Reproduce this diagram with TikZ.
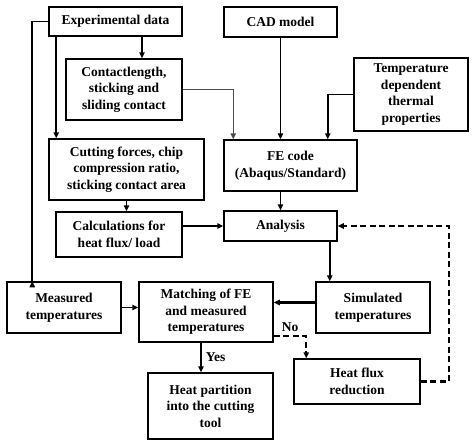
\documentclass[tikz,border=0pt]{standalone}
\usepackage{fontspec}
\setmainfont{Liberation Serif}
\usetikzlibrary{arrows.meta}

\tikzset{
  blk/.style={draw,line width=1.5pt,align=center,inner sep=1pt,
    font=\bfseries\fontsize{13.5}{16.5}\selectfont},
  flow/.style={-{Triangle[length=6pt,width=5.5pt]},line width=1.6pt},
  thinflow/.style={flow,line width=1pt,color=black!70},
  dashflow/.style={flow,dash pattern=on 6pt off 3.5pt,line width=2.2pt},
  lbl/.style={font=\bfseries\fontsize{13.5}{16}\selectfont,inner sep=1pt}
}

\begin{document}
\begin{tikzpicture}[x=1pt,y=-1pt]
\useasboundingbox (0,0) rectangle (474,445);
% 左列
\node[blk,minimum width=133,minimum height=29] (expdata) at (115.5,21.5) {Experimental data};
\node[blk,minimum width=116,minimum height=61] (contact) at (124,89.5) {Contactlength,\\sticking and\\sliding contact};
\node[blk,minimum width=155,minimum height=61] (cutting) at (126.5,169.5) {Cutting forces, chip\\compression ratio,\\sticking contact area};
\node[blk,minimum width=126,minimum height=45] (calc) at (119,234.5) {Calculations for\\heat flux/ load};
\node[blk,minimum width=114,minimum height=51] (meas) at (64,307.5) {Measured\\temperatures};
% 中列
\node[blk,minimum width=113,minimum height=30] (cad) at (280.5,22) {CAD model};
\node[blk,minimum width=133,minimum height=51] (fe) at (290.5,165.5) {FE code\\(Abaqus/Standard)};
\node[blk,minimum width=113,minimum height=30] (analysis) at (280.5,226) {Analysis};
\node[blk,minimum width=134,minimum height=60] (match) at (206,312) {Matching of FE\\and measured\\temperatures};
\node[blk,minimum width=125,minimum height=66] (partition) at (210.5,406) {Heat partition\\into the cutting\\tool};
% 右列
\node[blk,minimum width=114,minimum height=73] (tdep) at (411,94.5) {Temperature\\dependent\\thermal\\properties};
\node[blk,minimum width=114,minimum height=51] (sim) at (373,307.5) {Simulated\\temperatures};
\node[blk,minimum width=126,minimum height=45] (reduct) at (357,381.5) {Heat flux\\reduction};
% 连线
\draw[flow] (expdata.west) -- ++(-16,0) |- ([xshift=26pt]meas.north west) -- ([xshift=26pt]meas.north west);
\coordinate (c1) at ([xshift=18pt]contact.north);
\draw[flow] (expdata.south -| c1) -- (c1);
\draw[flow] ([xshift=8pt]expdata.south west) -- ([xshift=8pt]cutting.north west);
\draw[thinflow] (contact.east) -| ([xshift=10pt]fe.north west);
\draw[flow] (cad.south) -- (cad.south |- fe.north);
\draw[flow] (tdep.west) -| ([xshift=-30pt]fe.north east);
\draw[flow] (cutting.south) -- (cutting.south |- calc.north);
\draw[flow] (calc.east |- analysis.west) -- (analysis.west);
\draw[flow] (analysis.north |- fe.south) -- (analysis.north);
\coordinate (c2) at ([xshift=-8pt]analysis.south east);
\draw[flow] (c2) -- (c2 |- sim.north);
\draw[flow,line width=2.8pt] ([yshift=5pt]sim.west) -- ([yshift=5pt]sim.west -| match.east);
\draw[flow] (meas.east) -- (meas.east -| match.west);
\coordinate (c3) at ([xshift=-5pt]match.south);
\draw[flow] (c3) -- (c3 |- partition.north) node[lbl,midway,right=3pt] {Yes};
\draw[dashflow,line width=1.8pt] ([yshift=-24pt]match.east) -| node[lbl,pos=0.25,above=2pt] {No} ([xshift=13pt]reduct.north west);
\draw[dashflow] (reduct.east) -- ++(28,0) |- (analysis.east);
\end{tikzpicture}
\end{document}
